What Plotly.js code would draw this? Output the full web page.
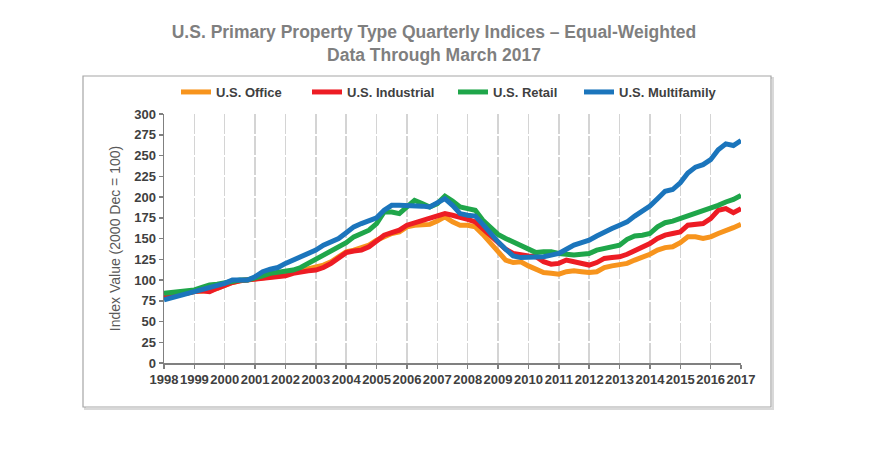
<!DOCTYPE html>
<html>
<head>
<meta charset="utf-8">
<script src="https://cdn.plot.ly/plotly-3.0.1.min.js"></script>
<style>
  html, body { margin: 0; padding: 0; background: #ffffff; }
  #chart { width: 872px; height: 457px; }
</style>
</head>
<body>
<div id="chart"></div>
<script>
// Quarterly index values, 1998 Q1 through 2017 Q1 (2000 Dec = 100)
const startYear = 1998;
const yearTicks = [1998, 1999, 2000, 2001, 2002, 2003, 2004, 2005, 2006, 2007,
                   2008, 2009, 2010, 2011, 2012, 2013, 2014, 2015, 2016, 2017];

const officeIdx = [
  80, 81, 82, 84,   86, 87, 87, 90,   94, 97, 99, 100,   101, 102, 103, 104,
  106, 109, 111, 113,   115, 118, 122, 128,   134, 136, 139, 142,   148, 152, 156, 158,
  164, 166, 167, 167,   171, 176, 170, 166,   166, 164, 155, 145,   133, 124, 121, 122,
  117, 113, 109, 108,   107, 110, 111, 110,   109, 110, 115, 117,   118, 120, 124, 127,
  131, 136, 139, 140,   145, 152, 152, 150,   152, 156, 159, 163,   167
];
const industrialIdx = [
  79, 81, 82, 84,   86, 87, 86, 90,   94, 97, 99, 100,   101, 102, 103, 103,
  105, 108, 110, 111,   112, 115, 120, 126,   133, 135, 136, 140,   148, 154, 157, 160,
  166, 169, 172, 174,   178, 180, 178, 176,   173, 170, 162, 154,   144, 137, 132, 130,
  129, 128, 122, 119,   120, 124, 122, 119,   118, 121, 126, 127,   128, 131, 135, 139,
  144, 150, 154, 156,   158, 166, 167, 168,   174, 184, 186, 181,   186
];
const retailIdx = [
  84, 85, 86, 87,   88, 91, 94, 95,   97, 99, 100, 100,   102, 105, 108, 109,
  110, 112, 115, 120,   125, 130, 134, 139,   145, 152, 156, 160,   168, 182, 182, 180,
  188, 196, 192, 188,   192, 201, 195, 188,   186, 184, 172, 163,   155, 150, 146, 142,
  138, 133, 134, 134,   132, 131, 130, 131,   132, 136, 138, 139,   142, 149, 153, 154,
  156, 164, 169, 171,   174, 178, 181, 184,   187, 190, 194, 197,   202
];
const multifamilyIdx = [
  76, 78.5, 81, 83.5,   86, 88, 90, 93,   96, 100, 100, 100,   104, 110, 113, 115,
  120, 124, 128, 132,   136, 142, 146, 150,   157, 164, 168, 171,   175, 184, 190, 190,
  190, 190, 189, 188,   193, 198, 190, 180,   178, 177, 167, 156,   146, 137, 129, 127,
  127, 127, 128, 130,   132, 137, 142, 145,   148, 153, 158, 162,   166, 170, 177, 183,
  189, 198, 207, 209,   217, 229, 236, 239,   245, 257, 264, 262,   268
];

const seriesNames = ['U.S. Office', 'U.S. Industrial', 'U.S. Retail', 'U.S. Multifamily'];
const seriesValues = [officeIdx, industrialIdx, retailIdx, multifamilyIdx];
const seriesColors = ['#F7941D', '#ED1C24', '#1FA64A', '#1B75BC'];

// Quarter positions on the year axis
const quarterX = officeIdx.map((_, i) => startYear + i / 4);

const W = 872, H = 457;
const M = { l: 164, r: 131, t: 114, b: 94 };
const plotW = W - M.l - M.r, plotH = H - M.t - M.b;
const px = x => (x - M.l) / plotW;          // pixel -> paper x
const py = y => (H - M.b - y) / plotH;      // pixel -> paper y

const FONT = 'Liberation Sans, Arial, Helvetica, sans-serif';
const legendIds = ['legend', 'legend2', 'legend3', 'legend4'];
const legendTextX = [218, 349, 495, 621];

const traces = seriesNames.map((name, k) => ({
  type: 'scatter',
  mode: 'lines',
  name: name,
  x: quarterX,
  y: seriesValues[k],
  line: { color: seriesColors[k], width: 5, shape: 'linear' },
  legend: legendIds[k],
  hoverinfo: 'x+y+name'
}));

const legendBase = {
  orientation: 'h',
  xref: 'container', yref: 'container',
  xanchor: 'left', yanchor: 'middle',
  y: 1 - 92 / H,
  bgcolor: 'rgba(0,0,0,0)',
  borderwidth: 0,
  itemwidth: 30,
  font: { family: FONT, size: 13, color: '#404040', weight: 'bold' }
};

const layout = {
  width: W, height: H,
  margin: M,
  paper_bgcolor: '#ffffff',
  plot_bgcolor: '#F2F2F2',
  showlegend: true,
  title: {
    text: 'U.S. Primary Property Type Quarterly Indices – Equal-Weighted<br>Data Through March 2017',
    font: { family: FONT, size: 17.5, color: '#7F7F7F', weight: 'bold' },
    xref: 'container', yref: 'container',
    x: 434 / W, xanchor: 'center',
    y: 1 - 38 / H, yanchor: 'middle'
  },
  xaxis: {
    range: [1998, 2017],
    tickmode: 'array',
    tickvals: yearTicks,
    ticktext: yearTicks.map(String),
    tickangle: 0,
    ticks: 'outside', ticklen: 4, tickwidth: 1.5, tickcolor: '#808080',
    showline: true, linecolor: '#808080', linewidth: 1.5,
    showgrid: true, gridcolor: '#D4D4D4', gridwidth: 1.5,
    zeroline: false,
    tickfont: { family: FONT, size: 13, color: '#404040', weight: 'bold' },
    fixedrange: true
  },
  yaxis: {
    range: [0, 300],
    tick0: 0, dtick: 25,
    ticks: 'outside', ticklen: 4, tickwidth: 1.5, tickcolor: '#808080',
    showline: true, linecolor: '#808080', linewidth: 1.5,
    showgrid: true, gridcolor: '#FFFFFF', gridwidth: 2,
    zeroline: false,
    tickfont: { family: FONT, size: 13, color: '#404040', weight: 'bold' },
    title: {
      text: 'Index Value (2000 Dec = 100)',
      font: { family: FONT, size: 14, color: '#595959' },
      standoff: 10
    },
    automargin: false,
    fixedrange: true
  },
  shapes: [
    // soft drop shadow of the outer frame
    { type: 'rect', xref: 'paper', yref: 'paper', layer: 'below',
      x0: px(85), x1: px(773), y0: py(78), y1: py(409),
      line: { color: '#D9D9D9', width: 2 }, fillcolor: 'rgba(0,0,0,0)' },
    // outer frame
    { type: 'rect', xref: 'paper', yref: 'paper', layer: 'below',
      x0: px(83), x1: px(771), y0: py(76), y1: py(407),
      line: { color: '#A6A6A6', width: 1.2 }, fillcolor: '#FFFFFF' }
  ]
};

legendIds.forEach((id, k) => {
  layout[id] = Object.assign({}, legendBase, { x: (legendTextX[k] - 42) / W });
});

Plotly.newPlot('chart', traces, layout, { displayModeBar: false, staticPlot: true });
</script>
</body>
</html>
